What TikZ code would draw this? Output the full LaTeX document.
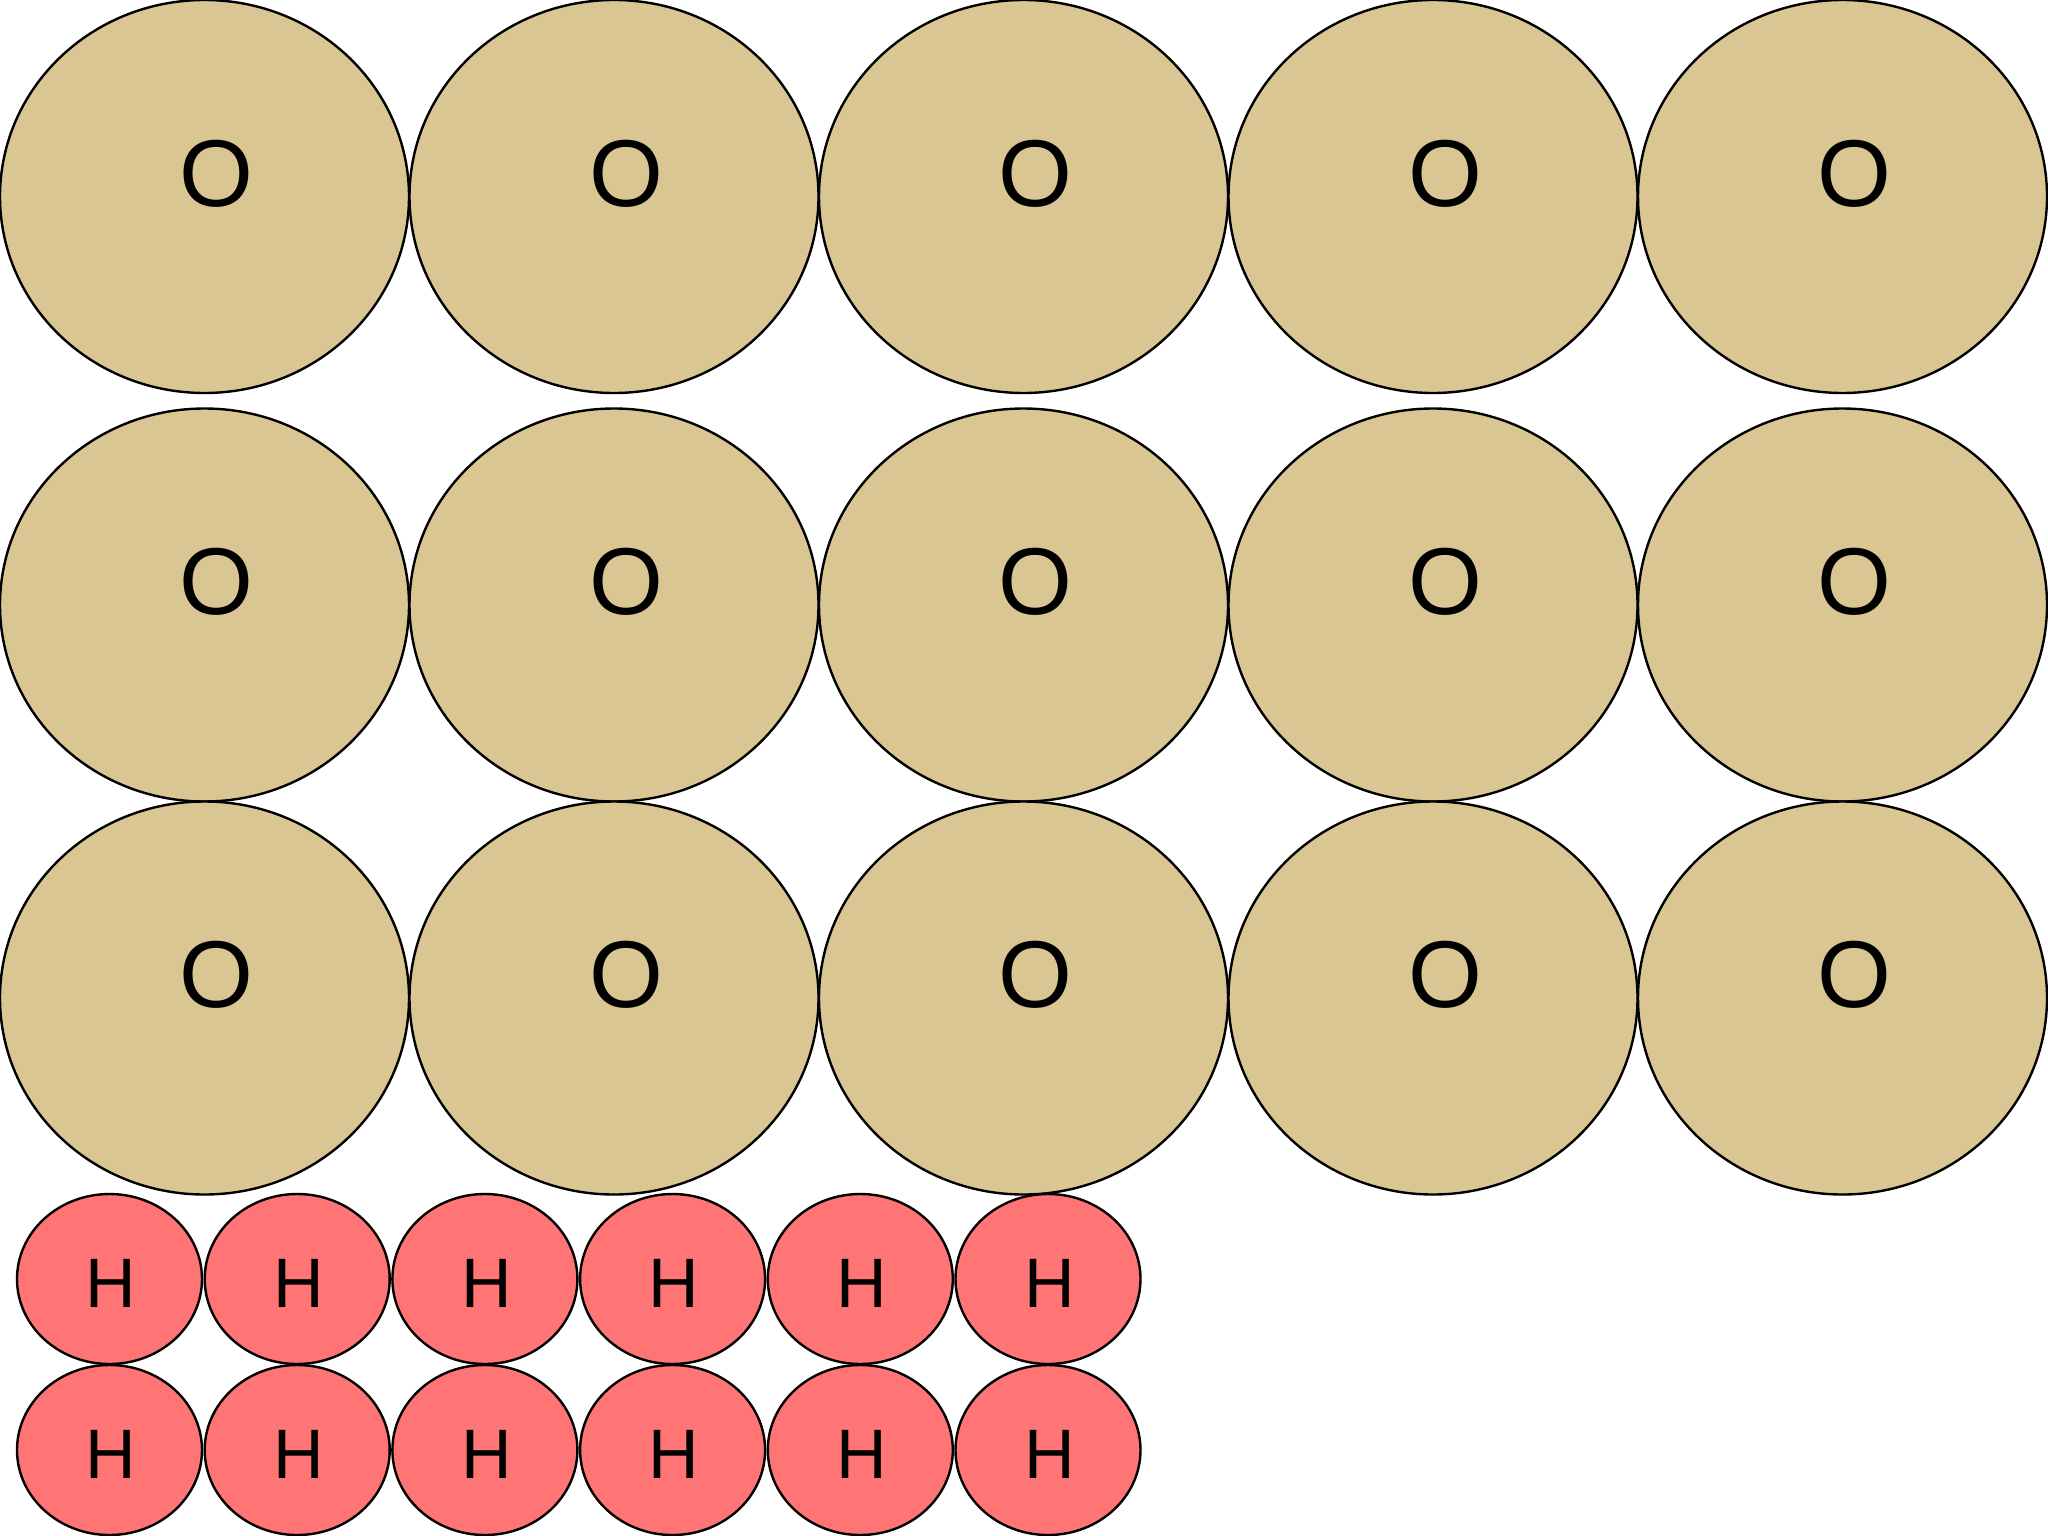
\documentclass[tikz,border=0pt]{standalone}
\usepackage{fontspec}
\setmainfont{Liberation Sans}
\usetikzlibrary{shapes.geometric}
\definecolor{oxy}{RGB}{217,198,146}
\definecolor{hyd}{RGB}{255,117,117}
\tikzset{
  obig/.style={ellipse, draw=black, line width=2.4pt, fill=oxy, inner sep=0pt,
    minimum width=409pt, minimum height=393pt,
    label={[shift={(12pt,23pt)}, font=\fontsize{95}{100}\selectfont]center:O}},
  hsmall/.style={ellipse, draw=black, line width=2.4pt, fill=hyd, inner sep=0pt,
    minimum width=185pt, minimum height=170pt,
    label={[shift={(1.5pt,-4pt)}, font=\fontsize{70}{76}\selectfont]center:H}}
}
\begin{document}
\begin{tikzpicture}[x=1pt,y=-1pt]
\fill[white] (0,0) rectangle (2048,1536);
\useasboundingbox (0,0) rectangle (2048,1536);
\foreach \r/\yy in {1/196.5, 2/605, 3/998} {
  \foreach \c in {0,...,4} {
    \node[obig] (o\r\c) at ({204.5+409.5*\c},\yy) {};
  }
}
\foreach \r/\yy in {1/1279, 2/1450} {
  \foreach \c in {0,...,5} {
    \node[hsmall] (h\r\c) at ({109.5+187.7*\c},\yy) {};
  }
}
\end{tikzpicture}
\end{document}
